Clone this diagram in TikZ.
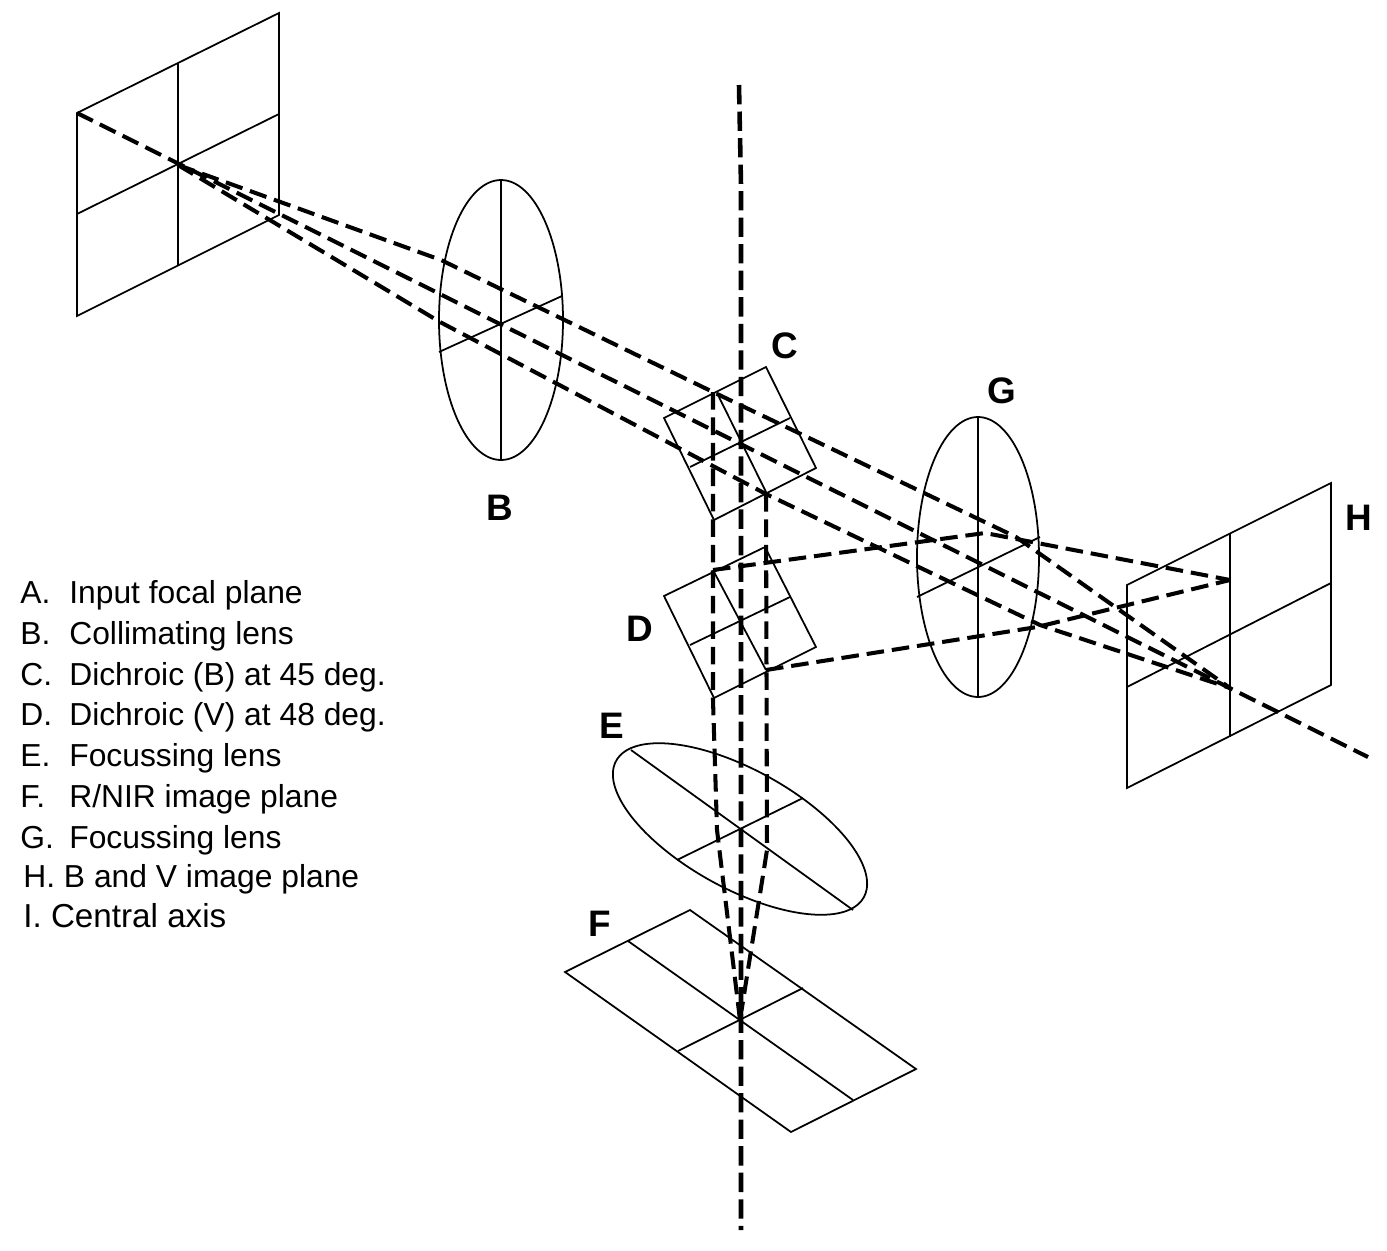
\documentclass[tikz,border=0pt]{standalone}
\usepackage{fontspec}
\setmainfont{Liberation Sans}

\begin{document}
\begin{tikzpicture}[x=0.02cm,y=-0.02cm]
\tikzstyle{optic}=[line width=1pt,line join=miter,black]
\tikzstyle{ray}=[line width=2.3pt,dash pattern=on 10pt off 4.5pt,black]
\tikzstyle{axis}=[line width=2.6pt,dash pattern=on 11pt off 4.1pt,black]
\tikzstyle{tag}=[inner sep=0pt,font=\fontsize{21}{24}\selectfont\bfseries]
\tikzstyle{legend}=[anchor=base west,inner sep=0pt,font=\fontsize{18.1}{20}\selectfont]

\useasboundingbox (0,0) rectangle (1387,1251);

% A
\draw[optic] (77,113) -- (279,13) -- (279,215) -- (77,316) -- cycle;
\draw[optic] (178,63) -- (178,266);
\draw[optic] (77,214) -- (279,114);

% B
\draw[optic] (501,320) ellipse (62 and 140);
\draw[optic] (501,180) -- (501,460);
\draw[optic] (439,352) -- (562,296);

% C
\draw[optic] (664,418) -- (766,367) -- (816,468) -- (714,520) -- cycle;
\draw[optic] (717,393) -- (767,494);
\draw[optic] (690,467) -- (790,418);

% D
\draw[optic] (664,596) -- (765,547) -- (816,647) -- (714,698) -- cycle;
\draw[optic] (713,570) -- (766,670);
\draw[optic] (690,645) -- (790,597);

% E
\draw[optic] plot[domain=0:360,samples=90,smooth] ({740+111*cos(\x)+62*sin(\x)},{829+80*cos(\x)-31*sin(\x)}) -- cycle;
\draw[optic] (631,750) -- (853,910);
\draw[optic] (677,860) -- (803,798);

% F
\draw[optic] (565,972) -- (690,910) -- (916,1069) -- (791,1132) -- cycle;
\draw[optic] (628,941) -- (853,1100);
\draw[optic] (678,1051) -- (803,988);

% G
\draw[optic] (978,557) ellipse (61 and 140);
\draw[optic] (978,417) -- (978,697);
\draw[optic] (917,597) -- (1040,537);

% H
\draw[optic] (1127,585) -- (1331,483) -- (1331,685) -- (1127,788) -- cycle;
\draw[optic] (1230,533) -- (1230,737);
\draw[optic] (1127,687) -- (1331,583);

\coordinate (axisTop) at (739,85);
\coordinate (axisBend) at (741,185);
\coordinate (axisEnd) at (741,1230);
\draw[axis] (axisTop) -- (axisBend) -- (axisEnd);

\coordinate (startA) at (77,113);
\coordinate (focusA) at (178,165);
\coordinate (endI) at (1368,757);
\coordinate (topB) at (441,260);
\coordinate (lowB) at (440,322);
\coordinate (topC) at (713,392);
\coordinate (lowC) at (766,494);
\coordinate (topG) at (1016,537);
\coordinate (lowG) at (1040,625);
\coordinate (focusH) at (1230,688);
\draw[ray] (startA) -- (endI);
\draw[ray] (focusA) -- (topB) -- (topC) -- (topG) -- (focusH);
\draw[ray] (focusA) -- (lowB) -- (lowC) -- (lowG) -- (focusH);

\coordinate (leftE) at (717,830);
\coordinate (rightE) at (767,850);
\coordinate (focusF) at (740,1020);
\draw[ray] (topC) -- (713,700) -- (leftE) -- (focusF);
\draw[ray] (lowC) -- (rightE) -- (focusF);

\coordinate (topD) at (713,570);
\coordinate (lowD) at (766,670);
\coordinate (upG) at (985,533);
\coordinate (downG) at (1037,627);
\coordinate (focusV) at (1230,580);
\draw[ray] (topD) -- (upG) -- (focusV);
\draw[ray] (lowD) -- (downG) -- (focusV);

\node[tag] (tagB) at (500,508) {B};
\node[tag] (tagC) at (785,346) {C};
\node[tag] (tagD) at (640,629) {D};
\node[tag] (tagE) at (612,726) {E};
\node[tag] (tagF) at (600,924) {F};
\node[tag] (tagG) at (1002,391) {G};
\node[tag] (tagH) at (1359,518) {H};

\node[legend] (legA) at (20,603) {\makebox[0.98cm][l]{A.}Input focal plane};
\node[legend] (legB) at (20,644) {\makebox[0.98cm][l]{B.}Collimating lens};
\node[legend] (legC) at (20,685) {\makebox[0.98cm][l]{C.}Dichroic (B) at 45 deg.};
\node[legend] (legD) at (20,725) {\makebox[0.98cm][l]{D.}Dichroic (V) at 48 deg.};
\node[legend] (legE) at (20,766) {\makebox[0.98cm][l]{E.}Focussing lens};
\node[legend] (legF) at (20,807) {\makebox[0.98cm][l]{F.}R/NIR image plane};
\node[legend] (legG) at (20,848) {\makebox[0.98cm][l]{G.}Focussing lens};
\node[legend] (legH) at (23,887) {H. B and V image plane};
\node[legend,font=\fontsize{18.9}{20}\selectfont] (legI) at (23,927) {I. Central axis};

\end{tikzpicture}
\end{document}
